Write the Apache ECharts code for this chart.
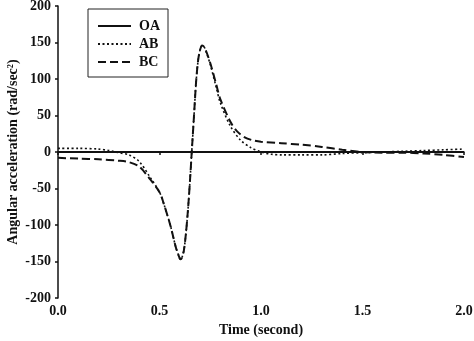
<!DOCTYPE html>
<html>
<head>
<meta charset="utf-8">
<script src="https://cdn.jsdelivr.net/npm/echarts@6/dist/echarts.min.js"></script>
<style>html,body{margin:0;padding:0;background:#fff}#c{width:474px;height:341px}</style>
</head>
<body>
<div id="c"></div>
<script>
var seriesNames = ['OA', 'AB', 'BC'];
var xTicks = [0, 0.5, 1.0, 1.5, 2.0];
var yTicks = [-200, -150, -100, -50, 0, 50, 100, 150, 200];

var tOA = [0, 2.0];
var vOA = [0, 0];

var tAB = [0, 0.1, 0.2, 0.25, 0.3, 0.35, 0.4, 0.45, 0.5, 0.52, 0.555, 0.58, 0.6, 0.605, 0.61, 0.62, 0.63, 0.64, 0.65, 0.66, 0.67, 0.68, 0.69, 0.7, 0.71, 0.72, 0.73, 0.75, 0.78, 0.8, 0.85, 0.9, 0.95, 1.0, 1.05, 1.1, 1.2, 1.3, 1.4, 1.5, 1.6, 1.7, 1.8, 1.9, 2.0];
var vAB = [5, 5, 4, 2, -1, -4, -13, -33, -55, -70, -102, -130, -146, -147, -145, -135, -112, -80, -40, 5, 50, 95, 125, 140, 146, 144, 137, 120, 88, 67, 35, 16, 6, 0, -3, -4, -4, -4, -2, -1, 0, 1, 2, 3, 4];

var tBC = [0, 0.1, 0.2, 0.3, 0.35, 0.4, 0.45, 0.5, 0.52, 0.555, 0.58, 0.6, 0.605, 0.61, 0.62, 0.63, 0.64, 0.65, 0.66, 0.67, 0.68, 0.69, 0.7, 0.71, 0.72, 0.73, 0.75, 0.78, 0.8, 0.85, 0.88, 0.92, 0.96, 1.0, 1.1, 1.2, 1.3, 1.4, 1.5, 1.6, 1.7, 1.8, 1.9, 2.0];
var vBC = [-8, -9, -10, -12, -14, -20, -36, -55, -70, -102, -130, -146, -147, -145, -135, -112, -80, -40, 5, 50, 95, 125, 140, 146, 144, 138, 122, 92, 72, 41, 29, 20, 16, 14, 12, 10, 7, 3, 0, -1, -1, -2, -4, -7];

function pairs(t, v) { return t.map(function (x, i) { return [x, v[i]]; }); }

var FONT = '"Liberation Serif", "Times New Roman", serif';
var chart = echarts.init(document.getElementById('c'), null, { renderer: 'canvas' });
chart.setOption({
  animation: false,
  backgroundColor: '#fff',
  grid: { left: 58, right: 10, top: 6, bottom: 43, containLabel: false, outerBoundsMode: 'none' },
  legend: {
    left: 88, top: 9, orient: 'vertical',
    padding: [10, 8, 8, 9],
    itemWidth: 33, itemHeight: 14, itemGap: 4,
    borderColor: '#222', borderWidth: 1,
    itemStyle: { opacity: 0 },
    textStyle: { fontFamily: FONT, fontWeight: 'bold', fontSize: 14, color: '#111', padding: [0, 0, 0, 3] },
    data: seriesNames
  },
  xAxis: {
    type: 'value', min: 0, max: 2, interval: 0.5,
    name: 'Time (second)', nameLocation: 'middle', nameGap: 25, nameMoveOverlap: false,
    nameTextStyle: { fontFamily: FONT, fontWeight: 'bold', fontSize: 14, color: '#111' },
    axisLine: { lineStyle: { color: '#111', width: 1.5 } },
    axisTick: { show: true, length: 3, lineStyle: { color: '#111', width: 1.5 }, customValues: xTicks },
    axisLabel: { fontFamily: FONT, fontWeight: 'bold', fontSize: 14, color: '#111', margin: 6,
      customValues: xTicks, formatter: function (v) { return v.toFixed(1); } },
    splitLine: { show: false }
  },
  yAxis: {
    type: 'value', min: -200, max: 200, interval: 50,
    name: 'Angular acceleration (rad/sec\u00b2)', nameLocation: 'middle', nameGap: 38, nameMoveOverlap: false,
    nameTextStyle: { fontFamily: FONT, fontWeight: 'bold', fontSize: 14, color: '#111' },
    axisLine: { show: true, lineStyle: { color: '#111', width: 1.5 } },
    axisTick: { show: true, length: 3, lineStyle: { color: '#111', width: 1.5 }, customValues: yTicks },
    axisLabel: { fontFamily: FONT, fontWeight: 'bold', fontSize: 14, color: '#111', margin: 7, customValues: yTicks },
    splitLine: { show: false }
  },
  series: [
    { name: 'OA', type: 'line', data: pairs(tOA, vOA), symbol: 'none', z: 3,
      lineStyle: { color: '#111', width: 2, type: 'solid' }, itemStyle: { color: '#111' } },
    { name: 'AB', type: 'line', data: pairs(tAB, vAB), symbol: 'none', smooth: 0.3, z: 2,
      lineStyle: { color: '#111', width: 1.6, type: [2, 2.5] }, itemStyle: { color: '#111' } },
    { name: 'BC', type: 'line', data: pairs(tBC, vBC), symbol: 'none', smooth: 0.3, z: 4,
      lineStyle: { color: '#111', width: 2, type: [8, 4] }, itemStyle: { color: '#111' } }
  ]
});
</script>
</body>
</html>
